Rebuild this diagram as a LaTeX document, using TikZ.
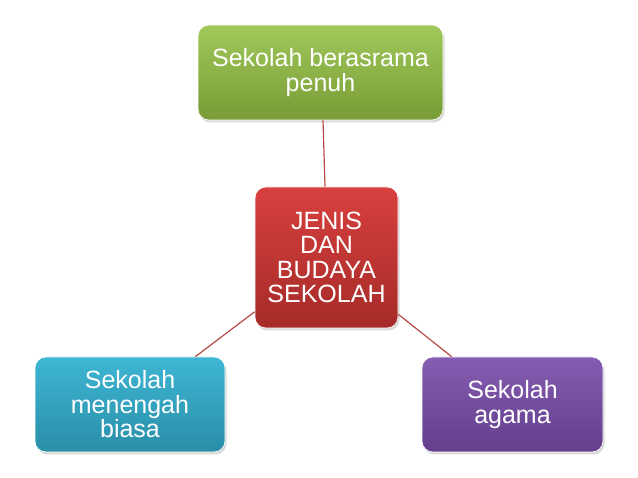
\documentclass[tikz,border=0pt]{standalone}
\usepackage{fontspec}
\setmainfont{Liberation Sans}
\usetikzlibrary{shadows,calc}
\definecolor{gtop}{HTML}{A0C85A}
\definecolor{gbot}{HTML}{789C36}
\definecolor{rtop}{HTML}{D8403E}
\definecolor{rbot}{HTML}{A52B28}
\definecolor{ctop}{HTML}{3EB6D4}
\definecolor{cbot}{HTML}{2A8EA8}
\definecolor{ptop}{HTML}{845CB2}
\definecolor{pbot}{HTML}{643F8C}
\definecolor{linkc}{HTML}{B54A47}
\begin{document}
\begin{tikzpicture}[x=1pt,y=-1pt,
  box/.style={rounded corners=11pt, draw=white, line width=0.6pt, text=white,
    align=center, inner sep=0pt,
    font=\fontsize{25}{24.5}\selectfont,
    drop shadow={opacity=0.3, shadow xshift=1.5pt, shadow yshift=-2.5pt}},
  link/.style={draw=linkc, line width=1.2pt}]
\useasboundingbox (0,0) rectangle (638,478);
\node[box, top color=gtop, bottom color=gbot, minimum width=245pt, minimum height=95pt] (g) at (320.5,72.5) {Sekolah berasrama\\penuh};
\node[box, top color=rtop, bottom color=rbot, minimum width=143pt, minimum height=141pt] (r) at (326.5,257.5) {JENIS\\DAN\\BUDAYA\\SEKOLAH};
\node[box, top color=ctop, bottom color=cbot, minimum width=190pt, minimum height=95pt] (c) at (130,404.5) {Sekolah\\menengah\\biasa};
\node[box, top color=ptop, bottom color=pbot, minimum width=181pt, minimum height=95pt] (p) at (512.5,404.5) {Sekolah\\agama};
\coordinate (gc) at ($(g.south)+(2.5,0)$);
\coordinate (rc) at ($(r.north)+(-1.5,0)$);
\coordinate (cc) at ($(c.north east)+(-30,0)$);
\coordinate (pc) at ($(p.north west)+(30,0)$);
\draw[link] (gc) -- (rc);
\draw[link] (r) -- (cc);
\draw[link] (r) -- (pc);
\end{tikzpicture}
\end{document}
